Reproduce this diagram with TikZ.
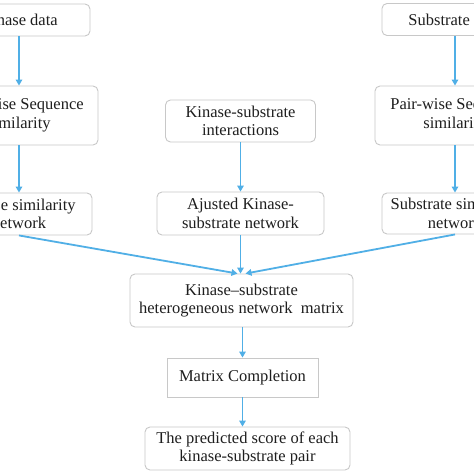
\documentclass[tikz,border=0pt]{standalone}
\usepackage{fontspec}
\setmainfont{Liberation Serif}
\usetikzlibrary{arrows.meta,calc}
\definecolor{boxgray}{RGB}{200,200,200}
\definecolor{textc}{RGB}{30,30,30}
\definecolor{arrowc}{RGB}{80,175,230}
\begin{document}
\begin{tikzpicture}[x=1pt,y=-1pt,
  box/.style={draw=boxgray, rounded corners=5pt, align=center, inner sep=0pt,
    line width=0.9pt, text=textc, font=\fontsize{16.5}{18.5}\selectfont},
  conn/.style={draw=arrowc, line width=1.8pt, -{Triangle[length=6pt,width=6.5pt]}},
  line/.style={draw=arrowc, line width=1.8pt}]
\useasboundingbox (0,0) rectangle (474,474);
\clip (0,0) rectangle (474,474);
\fill[white] (0,0) rectangle (474,474);
% left column
\node[box, minimum width=142pt, minimum height=32pt] (kd) at (19,20) {Kinase data};
\node[box, minimum width=158pt, minimum height=59pt] (lp) at (19,115.5) {Pair-wise Sequence\\similarity};
\node[box, minimum width=146pt, minimum height=42pt] (ln) at (19,214) {Kinase similarity\\network};
% right column
\node[box, minimum width=146pt, minimum height=32pt] (sd) at (455,19.5) {Substrate data};
\node[box, minimum width=160pt, minimum height=59pt] (rp) at (455,115.5) {Pair-wise Sequence\\similarity};
\node[box, minimum width=146pt, minimum height=41pt] (rn) at (455,213.5) {Substrate similarity\\network};
% middle column
\node[box, minimum width=150pt, minimum height=42pt] (ki) at (240.5,121) {Kinase-substrate\\interactions};
\node[box, minimum width=167pt, minimum height=43pt] (an) at (240.5,213.5) {Ajusted Kinase-\\substrate network};
\node[box, minimum width=223pt, minimum height=53pt] (mx) at (241.5,300.5) {Kinase--substrate\\heterogeneous network~ matrix};
\node[box, rounded corners=0pt, minimum width=151pt, minimum height=39pt] (mc) at (242.5,377.5) {Matrix Completion};
\node[box, minimum width=205pt, minimum height=43pt] (ps) at (247.5,448.5) {The predicted score of each\\kinase-substrate pair};
% connectors
\draw[conn] (kd.south) -- (lp.north);
\draw[conn] (lp.south) -- (ln.north);
\draw[conn] (sd.south) -- (rp.north);
\draw[conn] (rp.south) -- (rn.north);
\draw[conn] (ki.south) -- (an.north);
\draw[conn] (an.south) -- (an.south |- mx.north);
\draw[conn] (ln.south) -- ($(mx.north)+(-4,0)$);
\draw[conn] (rn.south) -- ($(mx.north)+(4,0)$);
\draw[conn] (mx.south -| mc.north) -- (mc.north);
\draw[conn] (mc.south) -- (mc.south |- ps.north);
\end{tikzpicture}
\end{document}
